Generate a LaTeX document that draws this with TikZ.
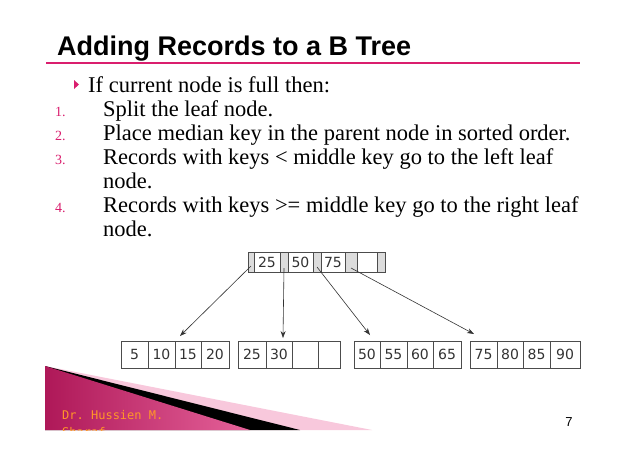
\documentclass[tikz,border=0pt]{standalone}
\usepackage{fontspec}
\setmainfont{Liberation Serif}
\setsansfont{Liberation Sans}
\setmonofont{DejaVu Sans Mono}
\newfontfamily\cellfont{DejaVu Sans}
\definecolor{mag}{RGB}{218,30,110}
\definecolor{lpink}{RGB}{248,200,220}
\definecolor{cellgrey}{RGB}{220,220,220}
\definecolor{orng}{RGB}{255,150,40}
\begin{document}
\begin{tikzpicture}[x=1pt,y=-1pt,
  cell/.style={draw=black!70,line width=0.6pt},
  lbl/.style={font=\fontsize{14}{14}\cellfont,text=black!80,inner sep=0pt},
  ptr/.style={-{Stealth[length=7pt,width=5pt]},line width=0.6pt,black!80},
  body/.style={anchor=base west,inner sep=0pt,font=\fontsize{22.5}{22.5}\selectfont},
  num/.style={anchor=base west,inner sep=0pt,text=mag,font=\fontsize{14}{14}\selectfont}]
\usetikzlibrary{arrows.meta}
\useasboundingbox (0,0) rectangle (638,451);
\fill[white] (0,0) rectangle (638,451);
% title
\node[anchor=base west,inner sep=0pt,font=\fontsize{27}{27}\sffamily\bfseries] (title) at (57,55) {Adding Records to a B Tree};
\draw[mag,line width=2.5pt] (46,63) -- (580,63);
% bullets
\fill[mag] (74,80) -- (79,84.5) -- (74,89) -- cycle;
\node[body] (b0) at (88,92) {If current node is full then:};
\node[num] (n1) at (55,116) {1.}; \node[body] (t1) at (103,116) {Split the leaf node.};
\node[num] (n2) at (55,140) {2.}; \node[body] (t2) at (103,140) {Place median key in the parent node in sorted order.};
\node[num] (n3) at (55,164) {3.}; \node[body] (t3) at (103,164) {Records with keys < middle key go to the left leaf};
\node[body] (t3b) at (103,188) {node.};
\node[num] (n4) at (55,212) {4.}; \node[body] (t4) at (103,212) {Records with keys >= middle key go to the right leaf};
\node[body] (t4b) at (103,236) {node.};
% top node
\foreach \a/\b in {248/254,280/288,313/321,345/357,377/385}{\fill[cellgrey] (\a,252) rectangle (\b,272);}
\draw[cell] (248,252) rectangle (385,272);
\foreach \x in {254,280,288,313,321,345,357,377}{\draw[cell] (\x,252) -- (\x,272);}
\node[lbl] (k25) at (267,262) {25};
\node[lbl] (k50) at (300.5,262) {50};
\node[lbl] (k75) at (333,262) {75};
\coordinate (p0) at (251,266); \coordinate (p1) at (284,268);
\coordinate (p2) at (317,267); \coordinate (p3) at (351,268);
% leaves
\foreach \L/\a/\b/\c/\d/\e in {A/121/148/175/201/229,B/238/266/292/318/340,C/354/380/407/433/461,D/470/497/523/550/580}{
  \draw[cell] (\a,341) rectangle (\e,368);
  \foreach \x in {\b,\c,\d}{\draw[cell] (\x,341) -- (\x,368);}
  \coordinate (\L1) at ({(\a+\b)/2},354.5);
  \coordinate (\L2) at ({(\b+\c)/2},354.5);
  \coordinate (\L3) at ({(\c+\d)/2},354.5);
  \coordinate (\L4) at ({(\d+\e)/2},354.5);
}
\node[lbl] (a1) at (A1) {5}; \node[lbl] (a2) at (A2) {10}; \node[lbl] (a3) at (A3) {15}; \node[lbl] (a4) at (A4) {20};
\node[lbl] (b1) at (B1) {25}; \node[lbl] (b2) at (B2) {30};
\node[lbl] (c1) at (C1) {50}; \node[lbl] (c2) at (C2) {55}; \node[lbl] (c3) at (C3) {60}; \node[lbl] (c4) at (C4) {65};
\node[lbl] (d1) at (D1) {75}; \node[lbl] (d2) at (D2) {80}; \node[lbl] (d3) at (D3) {85}; \node[lbl] (d4) at (D4) {90};
\coordinate (qA) at (180,336); \coordinate (qB) at (283,338);
\coordinate (qC) at (370,335); \coordinate (qD) at (474,334);
\draw[ptr] (p0) -- (qA);
\draw[ptr] (p1) -- (qB);
\draw[ptr] (p2) -- (qC);
\draw[ptr] (p3) -- (qD);
% footer
\begin{scope}
\clip (0,0) rectangle (638,430);
\fill[lpink] (45,366) -- (372,430) -- (45,430) -- cycle;
\fill[black] (45,366) -- (300,430) -- (45,430) -- cycle;
\shade[left color=mag!80!black,right color=mag!70!white] (45,366) -- (250,430) -- (45,430) -- cycle;
\node[anchor=base west,inner sep=0pt,text=orng,font=\fontsize{12}{12}\ttfamily] (auth) at (62,419) {Dr. Hussien M.};
\node[anchor=base west,inner sep=0pt,text=orng,font=\fontsize{12}{12}\ttfamily] (auth2) at (62,436) {Sharaf};
\end{scope}
\node[anchor=base,inner sep=0pt,font=\fontsize{13}{13}\sffamily] (pg) at (569,426) {7};
\end{tikzpicture}
\end{document}
